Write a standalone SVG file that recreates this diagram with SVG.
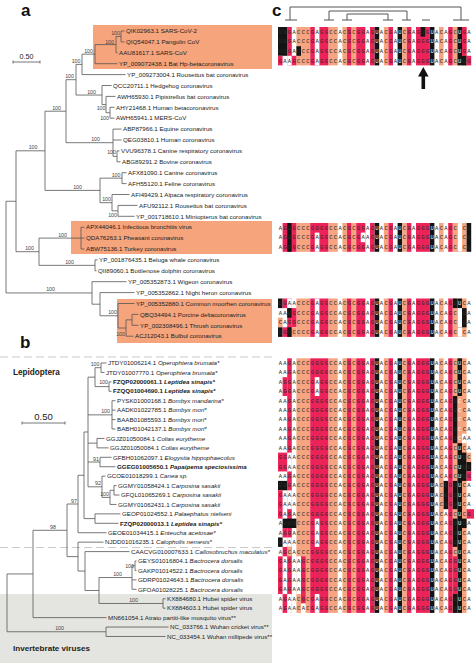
<svg xmlns="http://www.w3.org/2000/svg" width="474" height="663" viewBox="0 0 474 663">
<style>
text{font-family:"Liberation Sans",Arial,sans-serif;fill:#222}
.l{font-size:6.2px}
.bs{font-size:5.3px;fill:#444;text-anchor:end}
.i{font-style:italic}
.bd{font-weight:bold}
.t{fill:none;stroke:#555;stroke-width:0.8}
.g{fill:#ec2359}.c{fill:#f6a580}.u{fill:#141414}.a{fill:#fff}
.seq{font-family:"Liberation Mono",monospace;font-size:5.5px;letter-spacing:1.3px;fill:url(#tp)}
.box{fill:#f5a47c}
.pl{font-size:17px;font-weight:bold;fill:#111}
.br{fill:none;stroke:#555;stroke-width:1}
</style>
<defs>
<pattern id="cp" patternUnits="userSpaceOnUse" x="278" y="0" width="200" height="663">
<rect class="g" x="9.2" width="4.6" height="663"/>
<rect class="c" x="18.4" width="13.8" height="663"/>
<rect class="g" x="32.2" width="18.4" height="663"/>
<rect class="c" x="50.6" width="9.2" height="663"/>
<rect class="c" x="64.4" width="4.6" height="663"/>
<rect class="g" x="69" width="4.6" height="663"/>
<rect class="c" x="73.6" width="4.6" height="663"/>
<rect class="g" x="78.2" width="9.2" height="663"/>
<rect class="g" x="92" width="4.6" height="663"/>
<rect class="u" x="96.6" width="4.6" height="663"/>
<rect class="c" x="105.8" width="4.6" height="663"/>
<rect class="g" x="110.4" width="4.6" height="663"/>
<rect class="u" x="119.6" width="4.6" height="663"/>
<rect class="c" x="124.2" width="4.6" height="663"/>
<rect class="g" x="128.8" width="4.6" height="663"/>
<rect class="g" x="138" width="13.8" height="663"/>
<rect class="u" x="151.8" width="4.6" height="663"/>
<rect class="c" x="161" width="4.6" height="663"/>
<rect class="g" x="170.2" width="4.6" height="663"/>
<rect class="c" x="174.8" width="4.6" height="663"/>
<rect class="u" x="179.4" width="4.6" height="663"/>
<rect class="c" x="184" width="4.6" height="663"/>
</pattern>
<pattern id="tp" patternUnits="userSpaceOnUse" x="278" y="0" width="200" height="663">
<rect width="200" height="663" fill="#2a2a2a"/>
<rect x="96.6" width="4.6" height="663" fill="#fff"/>
<rect x="119.6" width="4.6" height="663" fill="#fff"/>
<rect x="151.8" width="4.6" height="663" fill="#fff"/>
<rect x="179.4" width="4.6" height="663" fill="#fff"/>
</pattern>
</defs>
<rect width="474" height="663" fill="#fff"/>

<g id="highlights">
<rect class="box" x="93" y="25" width="179" height="44"/>
<rect class="box" x="71" y="221" width="201" height="33"/>
<rect class="box" x="117" y="299" width="155" height="44"/>
<rect x="0" y="594" width="272" height="69" fill="#e4e5e0"/>
<path d="M0 357H272M0 547.5H272" stroke="#bbb" stroke-width="0.8" stroke-dasharray="8 4" fill="none"/>
</g>

<g id="panel-labels">
<text class="pl" x="21" y="16">a</text>
<text class="pl" x="20" y="348">b</text>
<text class="pl" x="272" y="16">c</text>
<text x="13" y="374.5" style="font-size:8.2px;font-weight:bold">Lepidoptera</text>
<text x="13" y="651" style="font-size:8.1px;font-weight:bold">Invertebrate viruses</text>
</g>

<g id="scale-bars">
<path class="t" d="M13 62H40M13 60.5V63.5M40 60.5V63.5"/>
<text x="26.5" y="59" text-anchor="middle" style="font-size:7.2px">0.50</text>
<path class="t" d="M22 423H65M22 421.5V424.5M65 421.5V424.5"/>
<text x="43.5" y="420" text-anchor="middle" style="font-size:9.5px">0.50</text>
</g>

<g id="connectors-a">
<path class="t" d="M121 31V41.9M121 31H124.5M121 41.9H124.5"/>
<path class="t" d="M116 36.45V52.8M116 36.45H121M116 52.8H117.5"/>
<path class="t" d="M95 44.6V63.7M95 44.6H116M95 63.7H117.5"/>
<path class="t" d="M82 54.15V74.6M82 54.15H95M82 74.6H125.5"/>
<path class="t" d="M110 107.3V118.2M110 107.3H114.5M110 118.2H114.5"/>
<path class="t" d="M106 96.4V112.75M106 96.4H115.5M106 112.75H110"/>
<path class="t" d="M102 85.5V104.6M102 85.5H111.5M102 104.6H106"/>
<path class="t" d="M76 64.4V95.05M76 64.4H82M76 95.05H102"/>
<path class="t" d="M117 150.9V161.8M117 150.9H119.5M117 161.8H120.5"/>
<path class="t" d="M113 129.1V156.35M113 129.1H121.5M113 140H121.5M113 156.35H117"/>
<path class="t" d="M66 79.7V142.7M66 79.7H76M66 142.7H113"/>
<path class="t" d="M122 172.7V183.6M122 172.7H126.5M122 183.6H126.5"/>
<path class="t" d="M118 205.4V216.3M118 205.4H137.5M118 216.3H134.5"/>
<path class="t" d="M112 194.5V210.85M112 194.5H129.5M112 210.85H118"/>
<path class="t" d="M100 178.15V202.7M100 178.15H122M100 202.7H112"/>
<path class="t" d="M45 111.2V190.4M45 111.2H66M45 190.4H100"/>
<path class="t" d="M81 227.2V249M81 227.2H84.5M81 238.1H84.5M81 249H84.5"/>
<path class="t" d="M95 259.9V270.8M95 259.9H97.5M95 270.8H96.5"/>
<path class="t" d="M39 238.1V265.35M39 238.1H81M39 265.35H95"/>
<path class="t" d="M16 150.8V251.7M16 150.8H45M16 251.7H39"/>
<path class="t" d="M132 314.4V325.3M132 314.4H138.5M132 325.3H138.5"/>
<path class="t" d="M126 319.85V336.2M126 319.85H132M126 336.2H133.5"/>
<path class="t" d="M118 303.5V328M118 303.5H134.5M118 328H126"/>
<path class="t" d="M100 292.6V315.75M100 292.6H134.5M100 315.75H118"/>
<path class="t" d="M92 281.7V304.2M92 281.7H126.5M92 304.2H100"/>
<path class="t" d="M6 201.25V292.95M6 201.25H16M6 292.95H92"/>
</g>

<g id="bootstrap-a">
<text class="bs" x="120" y="35">100</text>
<text class="bs" x="114" y="44">100</text>
<text class="bs" x="93" y="53">100</text>
<text class="bs" x="80.5" y="62.5">100</text>
<text class="bs" x="74" y="78">100</text>
<text class="bs" x="96" y="93.5">100</text>
<text class="bs" x="105.5" y="110">100</text>
<text class="bs" x="109" y="119.5">100</text>
<text class="bs" x="61" y="109.5">100</text>
<text class="bs" x="100" y="141">100</text>
<text class="bs" x="116" y="153.5">100</text>
<text class="bs" x="37.5" y="149">100</text>
<text class="bs" x="82" y="189">100</text>
<text class="bs" x="120.5" y="177">100</text>
<text class="bs" x="111" y="201">100</text>
<text class="bs" x="117" y="217">100</text>
<text class="bs" x="67" y="236.5">100</text>
<text class="bs" x="34" y="250">100</text>
<text class="bs" x="74" y="263.5">100</text>
<text class="bs" x="55" y="291">100</text>
<text class="bs" x="117" y="314">100</text>
<text class="bs" x="125" y="335.5">100</text>
</g>

<g id="leaves-a">
<g id="na0"><text class="l" x="126" y="33.2">QIK02963.1 SARS-CoV-2</text></g>
<g id="na1"><text class="l" x="126" y="44.1">QIQ54047.1 Pangolin CoV</text></g>
<g id="na2"><text class="l" x="119" y="55">AAU81617.1 SARS-CoV</text></g>
<g id="na3"><text class="l" x="119" y="65.9">YP_009072438.1 Bat Hp-betacoronavirus</text></g>
<g id="na4"><text class="l" x="127" y="76.8">YP_009273004.1 Rousettus bat coronavirus</text></g>
<g id="na5"><text class="l" x="113" y="87.7">QCC20711.1 Hedgehog coronavirus</text></g>
<g id="na6"><text class="l" x="117" y="98.6">AWH65930.1 Pipistrellus bat coronavirus</text></g>
<g id="na7"><text class="l" x="116" y="109.5">AHY21468.1 Human betacoronavirus</text></g>
<g id="na8"><text class="l" x="116" y="120.4">AWH65941.1 MERS-CoV</text></g>
<g id="na9"><text class="l" x="123" y="131.3">ABP87966.1 Equine coronavirus</text></g>
<g id="na10"><text class="l" x="123" y="142.2">QEG03810.1 Human coronavirus</text></g>
<g id="na11"><text class="l" x="121" y="153.1">VVU96378.1 Canine respiratory coronavirus</text></g>
<g id="na12"><text class="l" x="122" y="164">ABG89291.2 Bovine coronavirus</text></g>
<g id="na13"><text class="l" x="128" y="174.9">AFX81090.1 Canine coronavirus</text></g>
<g id="na14"><text class="l" x="128" y="185.8">AFH55120.1 Feline coronavirus</text></g>
<g id="na15"><text class="l" x="131" y="196.7">AFI49429.1 Alpaca respiratory coronavirus</text></g>
<g id="na16"><text class="l" x="139" y="207.6">AFU92112.1 Rousettus bat coronavirus</text></g>
<g id="na17"><text class="l" x="136" y="218.5">YP_001718610.1 Miniopterus bat coronavirus</text></g>
<g id="na18"><text class="l" x="86" y="229.4">APX44046.1 Infectious bronchitis virus</text></g>
<g id="na19"><text class="l" x="86" y="240.3">QDA76263.1 Pheasant coronavirus</text></g>
<g id="na20"><text class="l" x="86" y="251.2">ABW75136.1 Turkey coronavirus</text></g>
<g id="na21"><text class="l" x="99" y="262.1">YP_001876435.1 Beluga whale coronavirus</text></g>
<g id="na22"><text class="l" x="98" y="273">QII89060.1 Bottlenose dolphin coronavirus</text></g>
<g id="na23"><text class="l" x="128" y="283.9">YP_005352873.1 Wigeon coronavirus</text></g>
<g id="na24"><text class="l" x="136" y="294.8">YP_005352862.1 Night heron coronavirus</text></g>
<g id="na25"><text class="l" x="136" y="305.7">YP_005352880.1 Common moorhen coronavirus</text></g>
<g id="na26"><text class="l" x="140" y="316.6">QBQ34494.1 Porcine deltacoronavirus</text></g>
<g id="na27"><text class="l" x="140" y="327.5">YP_002308496.1 Thrush coronavirus</text></g>
<g id="na28"><text class="l" x="135" y="338.4">ACJ12043.1 Bulbul coronavirus</text></g>
</g>

<g id="connectors-b">
<path class="t" d="M101 363V372.43M101 363H106.5M101 372.43H104.5"/>
<path class="t" d="M109 381.86V391.29M109 381.86H111.5M109 391.29H111.5"/>
<path class="t" d="M95 367.7V386.6M95 367.7H101M95 386.6H109"/>
<path class="t" d="M112 400.72V429.01M112 400.72H115.5M112 410.15H115.5M112 419.58H115.5M112 429.01H115.5"/>
<path class="t" d="M97 438.44V447.87M97 438.44H104.5M97 447.87H108.5"/>
<path class="t" d="M100 457.3V466.73M100 457.3H111.5M100 466.73H115.5"/>
<path class="t" d="M114 485.59V495.02M114 485.59H116.5M114 495.02H119.5"/>
<path class="t" d="M110 490.3V504.45M110 490.3H114M110 504.45H116.5"/>
<path class="t" d="M102 476.16V497.4M102 476.16H105.5M102 497.4H110"/>
<path class="t" d="M88 377.15V486.8M88 377.15H95M88 414.87H112M88 443.15H97M88 462H100M88 486.8H102"/>
<path class="t" d="M95 513.88V523.31M95 513.88H120.5M95 523.31H118.5"/>
<path class="t" d="M84 431.98V518.6M84 431.98H88M84 518.6H95"/>
<path class="t" d="M78 475.29V532.74M78 475.29H84M78 532.74H106.5"/>
<path class="t" d="M135 561.03V570.46M135 561.03H136.5M135 570.46H136.5"/>
<path class="t" d="M132 565.75V589.32M132 565.75H135M132 579.89H136.5M132 589.32H136.5"/>
<path class="t" d="M163 598.75V608.18M163 598.75H165.5M163 608.18H165.5"/>
<path class="t" d="M99 577.54V603.47M99 577.54H132M99 603.47H163"/>
<path class="t" d="M85 551.6V590.5M85 551.6H129.5M85 590.5H99"/>
<path class="t" d="M78 542.17V571.05M78 542.17H103.5M78 571.05H85"/>
<path class="t" d="M67 504V556.61M67 504H78M67 556.61H78"/>
<path class="t" d="M106 627.04V636.47M106 627.04H168.5M106 636.47H165.5"/>
<path class="t" d="M33 530.3V617.61M33 530.3H67M33 617.61H106.5"/>
<path class="t" d="M7 573.96V631.75M7 573.96H33M7 631.75H106"/>
</g>

<g id="bootstrap-b">
<text class="bs" x="99.5" y="365.5">100</text>
<text class="bs" x="108" y="384">100</text>
<text class="bs" x="110" y="413">100</text>
<text class="bs" x="99" y="460.5">91</text>
<text class="bs" x="101" y="485.3">92</text>
<text class="bs" x="109" y="496">100</text>
<text class="bs" x="77" y="502.5">97</text>
<text class="bs" x="56" y="528.8">98</text>
<text class="bs" x="134" y="568">100</text>
<text class="bs" x="122" y="576">100</text>
<text class="bs" x="138" y="602">100</text>
<text class="bs" x="64" y="630.3">100</text>
</g>

<g id="leaves-b">
<g id="nb1"><text class="l" x="108" y="365.2">JTDY01006214.1 <tspan class="i">Operophtera brumata*</tspan></text></g>
<g id="nb2"><text class="l" x="106" y="374.63">JTDY01007770.1 <tspan class="i">Operophtera brumata*</tspan></text></g>
<g id="nb3"><text class="l bd" x="113" y="384.06">FZQP02000061.1 <tspan class="i">Leptidea sinapis*</tspan></text></g>
<g id="nb4"><text class="l bd" x="113" y="393.49">FZQQ01004690.1 <tspan class="i">Leptidea sinapis*</tspan></text></g>
<g id="nb5"><text class="l" x="117" y="402.92">PYSK01000168.1 <tspan class="i">Bombyx mandarina*</tspan></text></g>
<g id="nb6"><text class="l" x="117" y="412.35">AADK01022785.1 <tspan class="i">Bombyx mori*</tspan></text></g>
<g id="nb7"><text class="l" x="117" y="421.78">BAAB01085593.1 <tspan class="i">Bombyx mori*</tspan></text></g>
<g id="nb8"><text class="l" x="117" y="431.21">BABH01042137.1 <tspan class="i">Bombyx mori*</tspan></text></g>
<g id="nb9"><text class="l" x="106" y="440.64">GGJZ01050084.1 <tspan class="i">Colias eurytheme</tspan></text></g>
<g id="nb10"><text class="l" x="110" y="450.07">GGJZ01050084.1 <tspan class="i">Colias eurytheme</tspan></text></g>
<g id="nb11"><text class="l" x="113" y="459.5">GFBH01062097.1 <tspan class="i">Elogystia hippophaecolus</tspan></text></g>
<g id="nb12"><text class="l bd" x="117" y="468.93">GGEG01005650.1 <tspan class="i">Papaipema speciosissima</tspan></text></g>
<g id="nb13"><text class="l" x="107" y="478.36">GCOE01018299.1 <tspan class="i">Canea sp.</tspan></text></g>
<g id="nb14"><text class="l" x="118" y="487.79">GGMY01058424.1 <tspan class="i">Carposina sasakii</tspan></text></g>
<g id="nb15"><text class="l" x="121" y="497.22">GFQL01065269.1 <tspan class="i">Carposina sasakii</tspan></text></g>
<g id="nb16"><text class="l" x="118" y="506.65">GGMY01062431.1 <tspan class="i">Carposina sasakii</tspan></text></g>
<g id="nb17"><text class="l" x="122" y="516.08">GEOP01024552.1 <tspan class="i">Palaephatus nielseni</tspan></text></g>
<g id="nb18"><text class="l bd" x="120" y="525.51">FZQP02000013.1 <tspan class="i">Leptidea sinapis*</tspan></text></g>
<g id="nb19"><text class="l" x="108" y="534.94">GEOE01034415.1 <tspan class="i">Enteucha acetosae*</tspan></text></g>
<g id="nb20"><text class="l" x="105" y="544.37">NJDD01016235.1 <tspan class="i">Calopholis nemesis*</tspan></text></g>
<g id="nb21"><text class="l" x="131" y="553.8">CAACVG010007633.1 <tspan class="i">Callosobruchus maculatus*</tspan></text></g>
<g id="nb22"><text class="l" x="138" y="563.23">GEYS01016804.1 <tspan class="i">Bactrocera dorsalis</tspan></text></g>
<g id="nb23"><text class="l" x="138" y="572.66">GAKP01014522.1 <tspan class="i">Bactrocera dorsalis</tspan></text></g>
<g id="nb24"><text class="l" x="138" y="582.09">GDRP01024643.1 <tspan class="i">Bactrocera dorsalis</tspan></text></g>
<g id="nb25"><text class="l" x="138" y="591.52">GFOA01028225.1 <tspan class="i">Bactrocera dorsalis</tspan></text></g>
<g id="nb26"><text class="l" x="167" y="600.95">KX884680.1 Hubei spider virus</text></g>
<g id="nb27"><text class="l" x="167" y="610.38">KX884603.1 Hubei spider virus</text></g>
<g id="nb28"><text class="l" x="108" y="619.81">MN661054.1 Atrato partiti-like mosquito virus**</text></g>
<g id="nb29"><text class="l" x="170" y="629.24">NC_033766.1 Wuhan cricket virus**</text></g>
<g id="nb30"><text class="l" x="167" y="638.67">NC_033454.1 Wuhan millipede virus**</text></g>
</g>

<g id="alignment">
<rect x="278" y="27" width="196" height="38.4" fill="url(#cp)"/>
<rect x="278" y="223" width="196" height="28.8" fill="url(#cp)"/>
<rect x="278" y="298.5" width="196" height="38.4" fill="url(#cp)"/>
<rect x="278" y="358.3" width="196" height="254.6" fill="url(#cp)"/>
<g id="variants">
<rect class="u" x="278" y="27" width="9.2" height="28.8"/>
<rect class="u" x="296.4" y="46.2" width="4.6" height="9.6"/>
<rect class="a" x="314.8" y="27" width="4.6" height="38.4"/>
<rect class="u" x="420.6" y="27" width="4.6" height="9.6"/>
<rect class="g" x="462" y="27" width="4.6" height="28.8"/>
<rect class="g" x="278" y="55.8" width="4.6" height="9.6"/>
<rect class="a" x="287.2" y="55.8" width="4.6" height="9.6"/>
<rect class="g" x="291.8" y="55.8" width="4.6" height="9.6"/>
<rect class="u" x="462" y="55.8" width="4.6" height="9.6"/>
<rect class="g" x="466.6" y="55.8" width="4.6" height="9.6"/>

<rect class="g" x="282.6" y="223" width="4.6" height="28.8"/>
<rect class="u" x="287.2" y="223" width="4.6" height="28.8"/>
<rect class="g" x="291.8" y="223" width="4.6" height="28.8"/>
<rect class="a" x="314.8" y="232.6" width="4.6" height="19.2"/>
<rect class="a" x="360.8" y="232.6" width="4.6" height="9.6"/>
<rect class="a" x="457.4" y="223" width="4.6" height="28.8"/>
<rect class="u" x="466.6" y="223" width="4.6" height="28.8"/>

<rect class="u" x="278" y="298.5" width="4.6" height="9.6"/>
<rect class="g" x="282.6" y="298.5" width="4.6" height="9.6"/>
<rect class="a" x="287.2" y="298.5" width="4.6" height="9.6"/>
<rect class="u" x="452.8" y="298.5" width="4.6" height="9.6"/>
<rect class="u" x="287.2" y="308.1" width="4.6" height="9.6"/>
<rect class="g" x="291.8" y="308.1" width="4.6" height="19.2"/>
<rect class="c" x="278" y="317.7" width="4.6" height="9.6"/>
<rect class="a" x="457.4" y="308.1" width="4.6" height="19.2"/>
<rect class="u" x="462" y="308.1" width="4.6" height="19.2"/>
<rect class="u" x="278" y="327.3" width="4.6" height="9.6"/>
<rect class="g" x="282.6" y="327.3" width="4.6" height="9.6"/>
<rect class="u" x="287.2" y="327.3" width="4.6" height="9.6"/>
<rect class="c" x="291.8" y="327.3" width="4.6" height="9.6"/>
<rect class="a" x="457.4" y="327.3" width="4.6" height="9.6"/>
<rect class="a" x="314.8" y="298.5" width="4.6" height="38.4"/>

<rect class="g" x="282.6" y="377.16" width="4.6" height="18.86"/>
<rect class="a" x="314.8" y="377.16" width="4.6" height="18.86"/>
<rect class="u" x="452.8" y="396.02" width="4.6" height="47.15"/>
<rect class="c" x="457.4" y="396.02" width="4.6" height="47.15"/>
<rect class="a" x="462" y="433.74" width="4.6" height="9.43"/>
<rect class="g" x="278" y="452.6" width="9.2" height="18.86"/>
<rect class="a" x="287.2" y="452.6" width="4.6" height="18.86"/>
<rect class="u" x="462" y="452.6" width="4.6" height="28.29"/>
<rect class="c" x="466.6" y="452.6" width="4.6" height="9.43"/>
<rect class="u" x="466.6" y="462.03" width="4.6" height="9.43"/>
<rect class="g" x="466.6" y="471.46" width="4.6" height="9.43"/>
<rect class="u" x="278" y="480.89" width="9.2" height="9.43"/>
<rect class="g" x="278" y="490.32" width="4.6" height="18.86"/>
<rect class="a" x="287.2" y="490.32" width="4.6" height="18.86"/>
<rect class="u" x="443.6" y="480.89" width="4.6" height="28.29"/>
<rect class="u" x="452.8" y="480.89" width="4.6" height="28.29"/>
<rect class="g" x="278" y="509.18" width="4.6" height="9.43"/>
<rect class="g" x="466.6" y="509.18" width="9.2" height="9.43"/>
<rect class="u" x="282.6" y="518.61" width="13.8" height="9.43"/>
<rect class="u" x="462" y="518.61" width="4.6" height="9.43"/>
<rect class="a" x="314.8" y="518.61" width="4.6" height="28.29"/>
<rect class="u" x="452.8" y="518.61" width="4.6" height="28.29"/>
<rect class="g" x="282.6" y="528.04" width="4.6" height="9.43"/>
<rect class="u" x="278" y="537.47" width="4.6" height="9.43"/>
<rect class="a" x="287.2" y="537.47" width="4.6" height="9.43"/>
<rect class="g" x="282.6" y="546.9" width="4.6" height="9.43"/>
<rect class="c" x="287.2" y="546.9" width="4.6" height="9.43"/>
<rect class="g" x="278" y="556.33" width="4.6" height="37.72"/>
<rect class="a" x="296.4" y="556.33" width="4.6" height="37.72"/>
<rect class="g" x="301" y="556.33" width="4.6" height="37.72"/>
<rect class="g" x="452.8" y="556.33" width="4.6" height="37.72"/>
<rect class="g" x="282.6" y="594.05" width="4.6" height="18.86"/>
<rect class="a" x="287.2" y="594.05" width="4.6" height="18.86"/>
<rect class="a" x="314.8" y="594.05" width="4.6" height="18.86"/>
<rect class="u" x="452.8" y="594.05" width="4.6" height="18.86"/>
<rect class="g" x="301" y="594.05" width="4.6" height="9.43"/>
<rect class="a" x="301" y="603.48" width="4.6" height="9.43"/>
</g>
<g id="sequences">
<text class="seq" x="278.65" y="33.7">UUGACCCGAGGCCACGCGGAGUACGAUCGAGUGUACAGCUGA</text>
<text class="seq" x="278.65" y="43.3">UUGACCCGAGGCCACGCGGAGUACGAUCGAGGGUACAGCUGA</text>
<text class="seq" x="278.65" y="52.9">UUGAUCCGAGGCCACGCGGAGUACGAUCGAGGGUACAGCUGA</text>
<text class="seq" x="278.65" y="62.5">GAAGCCCGAGGCCACGCGGAGUACGAUCGAGGGUACAGCUUG</text>
<text class="seq" x="278.65" y="229.7">AGUGCCCGGGGCCACGCGGAGUACGAUCGAGGGUACAGCACU</text>
<text class="seq" x="278.65" y="239.3">AGUGCCCGAGGCCACGCGAAGUACGAUCGAGGGUACAGCACU</text>
<text class="seq" x="278.65" y="248.9">AGUGCCCGAGGCCACGCGGAGUACGAUCGAGGGUACAGCACU</text>
<text class="seq" x="278.65" y="305.2">UGAACCCGAGGCCACGCGGAGUACGAUCGAGGGUACAGUUCA</text>
<text class="seq" x="278.65" y="314.8">AAUGCCCGAGGCCACGCGGAGUACGAUCGAGGGUACAGCAUA</text>
<text class="seq" x="278.65" y="324.4">CAGGCCCGAGGCCACGCGGAGUACGAUCGAGGGUACAGCAUA</text>
<text class="seq" x="278.65" y="334">UGUCCCCGAGGCCACGCGGAGUACGAUCGAGGGUACAGCACA</text>
<text class="seq" x="278.65" y="364.9">AAGACCCGGGGCCACGCGGAGUACGAUCGAGGGUACAGCUCA</text>
<text class="seq" x="278.65" y="374.33">AAGACCCGGGGCCACGCGGAGUACGAUCGAGGGUACAGCUCA</text>
<text class="seq" x="278.65" y="383.76">AGGACCCGAGGCCACGCGGAGUACGAUCGAGGGUACAGCUCA</text>
<text class="seq" x="278.65" y="393.19">AGGACCCGAGGCCACGCGGAGUACGAUCGAGGGUACAGCUCA</text>
<text class="seq" x="278.65" y="402.62">AAGACCCGGGGCCACGCGGAGUACGAUCGAGGGUACAGUCCA</text>
<text class="seq" x="278.65" y="412.05">AAGACCCGGGGCCACGCGGAGUACGAUCGAGGGUACAGUCCA</text>
<text class="seq" x="278.65" y="421.48">AAGACCCGGGGCCACGCGGAGUACGAUCGAGGGUACAGUCCA</text>
<text class="seq" x="278.65" y="430.91">AAGACCCGGGGCCACGCGGAGUACGAUCGAGGGUACAGUCCA</text>
<text class="seq" x="278.65" y="440.34">AAGACCCGGGGCCACGCGGAGUACGAUCGAGGGUACAGUCAA</text>
<text class="seq" x="278.65" y="449.77">AAGACCCGGGGCCACGCGGAGUACGAUCGAGGGUACAGCUCA</text>
<text class="seq" x="278.65" y="459.2">GGAACCCGGGGCCACGCGGAGUACGAUCGAGGGUACAGCUUC</text>
<text class="seq" x="278.65" y="468.63">GGAACCCGGGGCCACGCGGAGUACGAUCGAGGGUACAGCUUU</text>
<text class="seq" x="278.65" y="478.06">AAGACCCGGGGCCACGCGGAGUACGAUCGAGGGUACAGCUUG</text>
<text class="seq" x="278.65" y="487.49">UUGACCCGGGGCCACGCGGAGUACGAUCGAGGGUACUGUUCA</text>
<text class="seq" x="278.65" y="496.92">GAAACCCGGGGCCACGCGGAGUACGAUCGAGGGUACUGUUCA</text>
<text class="seq" x="278.65" y="506.35">GAAACCCGGGGCCACGCGGAGUACGAUCGAGGGUACUGUUCA</text>
<text class="seq" x="278.65" y="515.78">GAGACCCGGGGCCACGCGGAGUACGAUCGAGGGUACAGCUCG</text>
<text class="seq" x="278.65" y="525.21">AUUUCCCGAGGCCACGCGGAGUACGAUCGAGGGUACAGUUUA</text>
<text class="seq" x="278.65" y="534.64">AGGACCCGAGGCCACGCGGAGUACGAUCGAGGGUACAGUUCA</text>
<text class="seq" x="278.65" y="544.07">UAAACCCGAGGCCACGCGGAGUACGAUCGAGGGUACAGUUCA</text>
<text class="seq" x="278.65" y="553.5">AGCACCCGGGGCCACGCGGAGUACGAUCGAGGGUACAGCUCA</text>
<text class="seq" x="278.65" y="562.93">GAGAAGCGGGGCCACGCGGAGUACGAUCGAGGGUACAGGUCA</text>
<text class="seq" x="278.65" y="572.36">GAGAAGCGGGGCCACGCGGAGUACGAUCGAGGGUACAGGUCA</text>
<text class="seq" x="278.65" y="581.79">GAGAAGCGGGGCCACGCGGAGUACGAUCGAGGGUACAGGUCA</text>
<text class="seq" x="278.65" y="591.22">GAGAAGCGGGGCCACGCGGAGUACGAUCGAGGGUACAGGUCA</text>
<text class="seq" x="278.65" y="600.65">AGAACGCGAGGCCACGCGGAGUACGAUCGAGGGUACAGUUCA</text>
<text class="seq" x="278.65" y="610.08">AGAACACGAGGCCACGCGGAGUACGAUCGAGGGUACAGUUCA</text>
</g>
</g>

<g id="structure-brackets">
<path class="br" d="M290 20V7H461V20M285 20H297M453 20H469"/>
<path class="br" d="M329 20V11H407V20M324 20H334M402 20H411"/>
<path class="br" d="M347 20V14H388V20M342 20H352M383 20H393"/>
<path class="br" d="M422 20H430"/>
</g>
<g id="arrow">
<path d="M423.3 67L428.6 76.5H425.1V89H421.5V76.5H418Z" fill="#111"/>
</g>
</svg>
